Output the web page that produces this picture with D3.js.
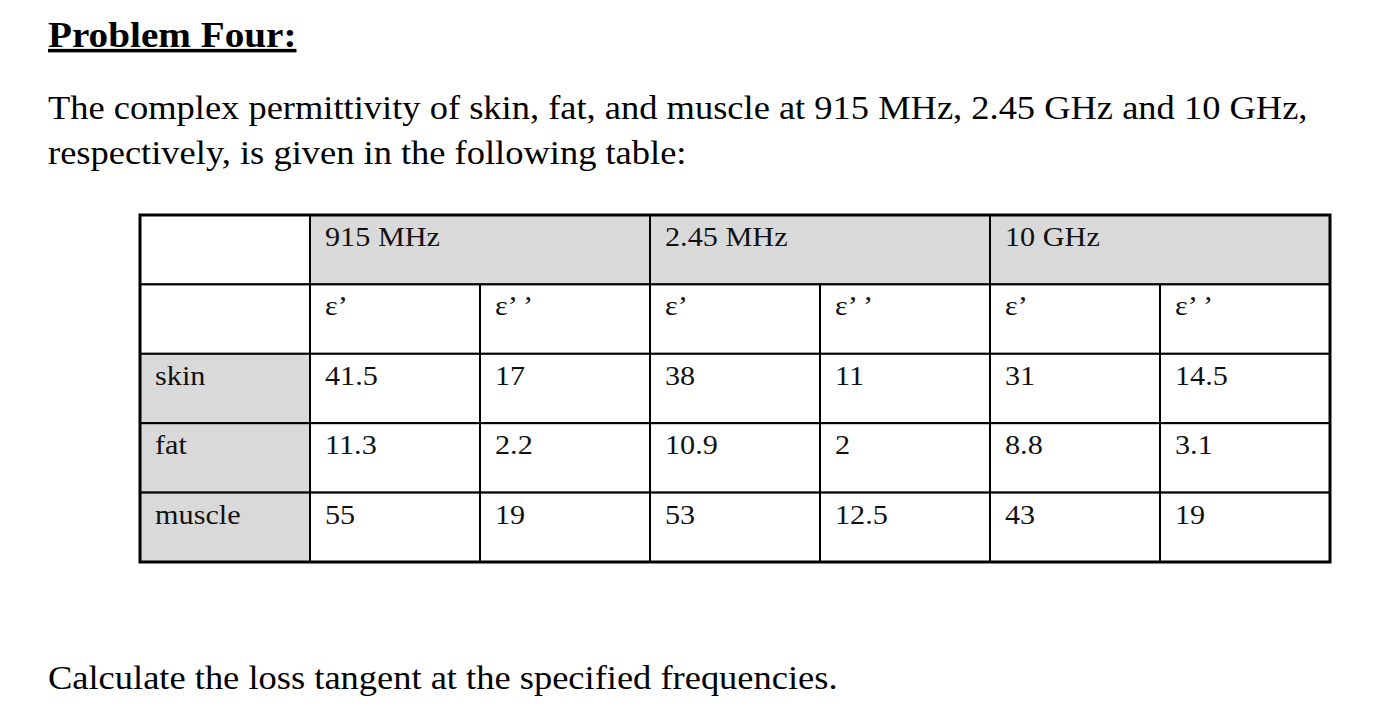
<!DOCTYPE html>
<html><head><meta charset="utf-8">
<script src="https://cdn.jsdelivr.net/npm/d3@7"></script>
<style>body{margin:0;background:#fff}</style>
</head><body><div id="chart"></div>
<script>
// table content
var freqs = ['915 MHz', '2.45 MHz', '10 GHz'];
var parts = ['ε\u2019', 'ε\u2019 \u2019'];
var tissues = ['skin', 'fat', 'muscle'];
var skinVals = ['41.5', '17', '38', '11', '31', '14.5'];
var fatVals = ['11.3', '2.2', '10.9', '2', '8.8', '3.1'];
var muscleVals = ['55', '19', '53', '12.5', '43', '19'];
var rowVals = [skinVals, fatVals, muscleVals];

var font = '"Liberation Serif","Times New Roman",serif';
var svg = d3.select('#chart').append('svg').attr('width', 1394).attr('height', 712);

// text drawn a bit wider, like the scanned original
function wideText(sel, x0, y0, sx) {
	return sel.append('text').attr('x', 0).attr('y', 0)
		.attr('transform', 'translate(' + x0 + ',' + y0 + ') scale(' + sx + ',1)')
		.attr('font-family', font);
}

wideText(svg, 48, 47, 1.12).attr('font-size', 35).attr('font-weight', 'bold')
	.attr('text-decoration', 'underline').text('Problem Four:');

var lines = ['The complex permittivity of skin, fat, and muscle at 915 MHz, 2.45 GHz and 10 GHz,',
	'respectively, is given in the following table:'];
lines.forEach(function (d, i) {
	wideText(svg, 48, 119 + i * 45, 1.105).attr('font-size', 33).text(d);
});

wideText(svg, 48, 689, 1.105).attr('font-size', 33)
	.text('Calculate the loss tangent at the specified frequencies.');

// scales for the grid
var x = d3.scaleLinear().domain([0, 7]).range([140, 1330]);
var y = d3.scaleLinear().domain([0, 5]).range([215, 562]);
var g = svg.append('g');

function cell(c0, c1, r, fill, txt) {
	g.append('rect').attr('x', x(c0)).attr('y', y(r)).attr('width', x(c1) - x(c0))
		.attr('height', y(r + 1) - y(r)).attr('fill', fill).attr('stroke', '#000').attr('stroke-width', 2);
	if (txt) wideText(g, x(c0) + 15, y(r) + 31, 1.12)
		.attr('font-size', 27).attr('fill', '#111').text(txt);
}

cell(0, 1, 0, '#fff');
freqs.forEach(function (f, i) { cell(1 + 2 * i, 3 + 2 * i, 0, '#d9d9d9', f); });
cell(0, 1, 1, '#fff');
freqs.forEach(function (f, i) {
	parts.forEach(function (p, j) { cell(1 + 2 * i + j, 2 + 2 * i + j, 1, '#fff', p); });
});
tissues.forEach(function (t, r) {
	cell(0, 1, r + 2, '#d9d9d9', t);
	rowVals[r].forEach(function (v, c) { cell(c + 1, c + 2, r + 2, '#fff', v); });
});
g.append('rect').attr('x', x(0)).attr('y', y(0)).attr('width', x(7) - x(0)).attr('height', y(5) - y(0))
	.attr('fill', 'none').attr('stroke', '#000').attr('stroke-width', 3);
</script></body></html>
